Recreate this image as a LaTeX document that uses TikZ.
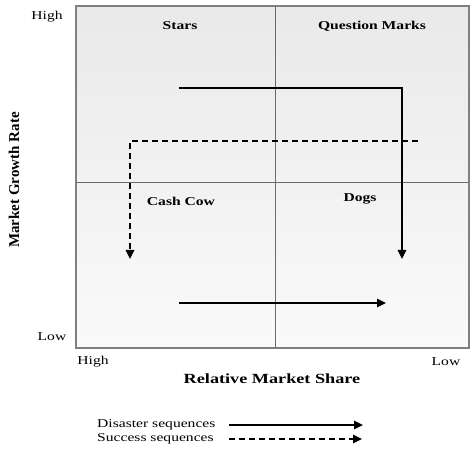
\documentclass[tikz,border=0pt]{standalone}
\usepackage{fontspec}
\setmainfont[FakeStretch=1.3]{Liberation Serif}
\newfontfamily\plainserif{Liberation Serif}
\usetikzlibrary{arrows.meta}

\tikzset{
  quadlabel/.style={font=\fontsize{12}{14}\selectfont\bfseries},
  ticklabel/.style={font=\fontsize{12}{14}\selectfont},
  seqarrow/.style={line width=1.4pt,-{Triangle[width=8.5pt,length=9pt]}},
  successarrow/.style={seqarrow,dash pattern=on 6pt off 4pt},
}

\begin{document}
\begin{tikzpicture}[x=1pt,y=1pt]
		\useasboundingbox (0,0) rectangle (474,454);
		%Поле матрицы
		\shade[top color=gray!17,bottom color=gray!4] (76,106) rectangle (469,448);
		\draw[black!50,line width=1.6pt] (76,106) rectangle (469,448);
		\draw[black!58,line width=1pt] (275,106)--(275,448);
		\draw[black!58,line width=1pt] (76,271)--(469,271);

		%Квадранты
		\node[quadlabel] (stars) at (180,428) {Stars};
		\node[quadlabel] (qmarks) at (372,428) {Question Marks};
		\node[quadlabel] (cashcow) at (181,253) {Cash Cow};
		\node[quadlabel] (dogs) at (360,255) {Dogs};

		%Оси
		\node[ticklabel] (yhigh) at (47,437) {High};
		\node[ticklabel] (ylow) at (52,117) {Low};
		\node[ticklabel] (xhigh) at (93,92) {High};
		\node[ticklabel] (xlow) at (446,92) {Low};
		\node[font=\fontsize{14}{16}\selectfont\bfseries] (xaxis) at (272,75) {Relative Market Share};
		\node[font=\plainserif\fontsize{15}{17}\selectfont\bfseries,rotate=90] (yaxis) at (14,274) {Market Growth Rate};

		%Последовательности
		\coordinate (dstart) at (179,366);
		\coordinate (dturn) at (402,366);
		\coordinate (dend) at (402,195);
		\draw[seqarrow] (dstart)--(dturn)--(dend);
		\coordinate (sstart) at (418,313);
		\coordinate (sturn) at (130,313);
		\coordinate (send) at (130,195);
		\draw[successarrow] (sstart)--(sturn)--(send);
		\coordinate (lstart) at (179,151);
		\coordinate (lend) at (386,151);
		\draw[seqarrow] (lstart)--(lend);

		%Легенда
		\node[ticklabel,anchor=west,inner sep=0pt] (disaster) at (97,29) {Disaster sequences};
		\node[ticklabel,anchor=west,inner sep=0pt] (success) at (97,15) {Success sequences};
		\coordinate (disend) at (363,29);
		\coordinate (sucend) at (362,15);
		\draw[seqarrow] (229,29)--(disend);
		\draw[successarrow] (229,15)--(sucend);
\end{tikzpicture}
\end{document}
